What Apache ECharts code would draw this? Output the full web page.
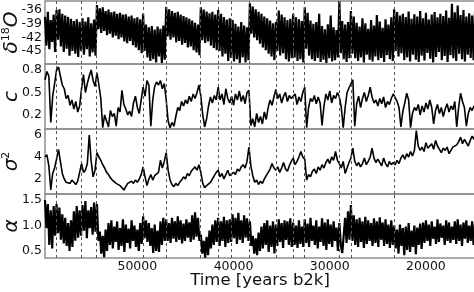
<!DOCTYPE html>
<html><head><meta charset="utf-8">
<script src="https://cdn.jsdelivr.net/npm/echarts@6/dist/echarts.min.js"></script>
<style>html,body{margin:0;padding:0;background:#fff}#c{width:474px;height:292px}</style>
</head><body><div id="c"></div>
<script>
// time grids (years b2k)
const denseStart = 59600, denseStep = 150;   // for d18O and alpha
const smoothStart = 59600, smoothStep = 200; // for c and sigma^2

const d18O = [
-37.5,-43.8,-36.4,-44.6,-38.2,-43.0,-37.0,-45.2,
-36.0,-42.5,-35.8,-44.0,-36.8,-45.2,-37.2,-44.5,-37.5,-46.0,-37.9,-45.0,-38.4,-45.6,-38.0,-46.3,-38.6,
-44.9,-37.8,-45.8,-38.5,-44.6,-37.6,-46.2,-38.9,-45.3,-38.1,-46.0,
-34.9,-40.2,-35.6,-41.0,-35.4,-40.6,-36.2,-41.5,-35.9,-41.2,-36.5,-42.0,-36.3,-41.6,-36.8,-42.4,-36.6,-42.0,-37.0,-42.9,-36.9,-43.3,-37.4,-42.8,-37.2,-43.7,-37.8,-44.2,-37.6,-44.8,-38.0,-45.5,
-36.8,-45.0,-39.2,-46.4,-39.8,-47.2,-39.5,-46.8,-40.3,-47.5,-39.6,-46.2,-40.1,-47.6,-39.4,-46.9,
-35.3,-41.8,-35.8,-42.5,-36.2,-42.0,-36.6,-43.1,-36.4,-42.8,-37.0,-43.6,-37.3,-43.2,-37.6,-44.2,-37.9,-44.0,-38.3,-44.8,-38.8,-45.3,-39.2,-45.9,
-35.4,-42.6,-35.9,-43.2,-36.3,-42.9,-36.7,-43.8,-36.4,-44.3,-37.0,-44.8,
-36.0,-45.0,-36.8,-46.2,-37.5,-45.6,-38.1,-47.2,-37.8,
-46.5,-38.2,-47.3,-39.0,-46.8,-39.6,-47.6,-38.6,-46.4,-39.4,-47.5,-39.8,-47.0,
-34.5,-41.2,-35.2,-42.0,-35.8,-42.6,-36.4,-43.4,-36.8,-44.2,-37.4,-44.8,-37.8,-45.6,-38.3,-46.2,-38.9,-47.0,-38.6,
-45.0,-36.1,-46.0,-37.0,-45.5,-37.6,-46.8,-38.2,-47.3,-37.9,-46.6,
-36.8,-46.4,-37.6,-47.2,-38.0,-46.8,-38.4,-47.5,
-35.4,-44.5,-36.6,-46.0,-38.3,-46.8,-39.0,-47.2,-38.6,-46.5,-36.8,-47.4,-39.5,-46.9,-40.2,-47.6,-39.1,-46.6,-37.2,-47.3,-39.8,-47.0,-40.4,-46.4,
-34.0,-45.5,-38.4,-46.8,-39.2,-47.4,-38.6,-46.6,
-36.2,-45.6,-37.4,-46.6,-38.8,-47.2,-39.6,-46.4,-37.8,-47.5,-38.9,-45.8,-40.1,-46.9,-38.2,-47.3,-39.4,-46.2,-37.1,-47.0,-38.5,-46.5,-39.9,-47.4,-38.0,-45.9,-39.2,-46.8,-37.6,-47.2,
-35.8,-45.0,-36.4,-46.2,-37.2,-45.5,-36.8,-47.0,-37.5,-46.4,
-36.3,-47.3,-37.9,-45.8,-36.9,-46.9,-37.4,-47.4,-36.2,-46.0,
-37.8,-47.1,-36.6,-45.4,-38.1,-46.7,-37.0,-47.5,-36.4,-46.3,
-37.6,-45.2,-36.8,-47.0,-37.3,-46.1,-36.1,-47.4,-37.7,-45.9,
-34.6,-46.6,-36.5,-47.2,-35.0,-45.6,-37.1,-46.8,-36.0,-47.3,
-37.4,-45.8,-36.7,-46.5,-37.2,-47.0,-36.3
];

const cVals = [
0.67,0.78,0.72,0.10,0.45,0.62,
0.80,0.84,0.72,0.60,0.55,0.42,0.46,0.33,0.40,0.28,0.38,0.24,0.32,
0.55,0.74,0.50,0.62,0.72,0.80,0.66,0.58,
0.76,0.60,0.42,0.03,0.20,0.12,0.04,0.26,0.18,0.22,0.05,0.30,0.24,0.53,0.34,0.28,0.20,0.25,0.18,0.36,0.45,0.30,0.22,0.40,
0.57,0.45,0.66,0.60,0.05,0.40,0.58,0.64,0.60,0.66,0.55,0.62,
0.40,0.12,0.03,0.10,0.05,0.18,0.30,0.26,0.38,0.32,0.40,0.35,0.45,0.38,0.48,0.42,0.50,0.60,
0.45,0.20,0.04,0.15,0.32,0.44,0.36,0.46,0.40,
0.57,0.40,0.48,0.34,0.55,0.42,0.36,
0.45,0.33,0.48,0.40,0.52,0.38,0.46,0.35,0.50,
0.53,0.06,0.15,0.04,0.22,0.10,0.18,0.08,0.24,0.14,0.30,0.40,0.33,0.44,
0.54,0.42,0.48,0.36,0.45,0.50,0.38,0.46,0.42,
0.40,0.48,0.34,0.44,0.38,0.50,
0.57,0.03,0.30,0.42,0.38,0.46,0.35,0.44,0.36,0.06,0.32,0.48,0.40,0.52,0.36,0.46,0.42,0.50,
0.44,0.30,0.03,0.30,0.50,0.56,
0.58,0.67,0.05,0.35,0.45,0.30,0.42,0.50,0.38,0.46,0.57,0.44,0.36,0.40,0.32,0.42,0.35,0.44,0.30,0.38,0.34,0.42,0.48,
0.46,0.38,0.30,0.04,0.25,0.36,0.49,0.40,0.03,0.22,
0.30,0.26,0.34,0.20,0.32,0.24,0.36,0.28,0.40,0.30,
0.08,0.26,0.34,0.22,0.30,0.18,0.28,0.35,0.24,0.32,
0.27,0.38,0.04,0.30,0.49,0.38,0.30,0.05,0.22,0.30,
0.26,0.32,0.27
];

const sigma2 = [
4.0,4.2,3.2,1.0,2.5,3.0,
3.8,4.7,3.6,2.5,2.0,1.7,1.8,1.6,1.9,1.7,1.5,1.8,1.7,
3.4,2.6,2.8,3.4,6.0,3.6,2.2,2.8,
4.4,4.0,3.7,3.3,3.0,2.6,2.4,2.1,1.9,2.0,1.6,1.5,1.4,1.2,1.0,1.3,1.6,1.5,1.8,1.6,1.9,1.7,2.0,2.4,
3.1,2.2,1.4,2.0,2.4,1.9,2.3,2.2,2.6,3.7,3.0,3.6,
4.4,2.8,1.9,1.5,1.3,1.6,1.4,1.7,1.9,2.2,2.0,2.5,2.3,2.7,2.9,3.1,2.8,3.3,
2.6,1.6,1.2,1.4,1.3,1.7,2.0,2.3,2.6,
2.8,2.2,2.5,2.0,2.4,2.8,2.3,
2.2,2.6,2.4,2.9,2.7,3.1,3.3,3.0,3.6,
4.9,3.2,2.3,1.7,1.9,1.5,1.8,1.6,2.0,2.3,2.6,2.9,3.4,3.0,
2.8,3.1,2.6,3.0,3.5,2.9,2.7,3.2,3.6,
3.9,3.3,3.6,4.0,4.5,4.0,
3.8,1.9,2.4,2.2,2.7,2.9,2.5,3.1,2.8,3.3,3.0,3.5,3.8,3.4,4.0,3.7,4.5,3.7,
3.4,3.0,3.6,2.5,3.0,3.5,
3.9,4.8,3.6,3.2,3.5,3.1,3.4,3.9,3.3,3.6,4.0,4.8,3.9,3.5,3.8,3.7,3.2,3.9,3.4,3.1,3.6,3.3,3.5,
3.3,3.7,3.4,3.9,4.2,3.8,4.3,4.0,4.5,4.1,
4.6,6.4,5.0,4.6,4.9,4.5,5.3,4.8,5.0,5.2,
4.7,5.5,5.0,4.7,4.4,4.8,4.6,4.9,4.3,4.4,
4.9,4.8,5.1,5.4,5.8,5.2,5.6,5.5,5.0,5.5,
5.9,5.6,6.3
];

const alphaVals = [
1.50,0.95,1.42,0.62,1.30,0.55,1.38,0.80,
1.42,0.85,1.35,0.72,1.22,0.65,1.15,0.60,1.05,0.50,1.10,0.58,1.28,0.70,1.38,0.76,1.30,
0.80,1.40,0.90,1.48,0.75,1.30,0.95,1.36,0.82,1.45,0.88,
1.42,0.70,0.88,0.45,0.80,0.38,0.92,0.50,1.05,0.62,1.10,0.55,0.98,0.68,1.08,0.52,0.95,0.60,1.12,0.48,1.02,0.66,0.94,0.55,1.10,0.70,1.00,0.58,0.92,0.50,1.05,0.64,
1.18,0.75,1.10,0.68,1.05,0.60,0.95,0.46,1.02,0.50,0.90,0.48,1.08,0.62,1.15,0.70,
1.12,0.70,1.05,0.66,1.15,0.74,1.08,0.68,1.18,0.72,1.10,0.65,1.04,0.70,1.12,0.76,1.06,0.68,1.20,0.72,1.26,0.78,1.15,0.70,
0.82,0.45,0.70,0.37,0.78,0.42,0.90,0.55,1.02,0.62,1.10,0.68,
1.15,0.60,1.08,0.70,1.17,0.58,1.10,0.66,1.12,
0.68,1.22,0.75,1.15,0.64,1.25,0.72,1.10,0.66,1.20,0.76,1.14,0.70,
1.08,0.60,0.80,0.45,0.75,0.42,0.86,0.50,0.98,0.55,1.05,0.62,1.10,0.48,1.00,0.58,1.08,0.45,1.02,
0.60,1.12,0.68,1.05,0.56,1.10,0.72,1.08,0.62,1.14,0.58,
1.06,0.62,1.00,0.56,1.10,0.64,0.98,0.58,
1.12,0.66,1.04,0.58,1.15,0.70,1.00,0.62,1.10,0.55,0.98,0.68,1.14,0.60,1.06,0.52,1.12,0.64,1.02,0.58,1.08,0.70,0.96,0.50,
1.05,0.62,0.46,0.80,1.15,0.66,1.28,0.72,
1.40,0.70,1.20,0.62,1.12,0.58,1.15,0.68,1.08,0.56,1.17,0.64,1.10,0.70,1.05,0.60,1.14,0.66,1.08,0.58,1.16,0.72,1.06,0.60,1.12,0.64,1.02,0.56,1.10,0.62,
1.00,0.55,0.92,0.45,1.02,0.60,0.95,0.42,0.98,0.52,
1.05,0.48,0.90,0.58,1.00,0.44,0.96,0.62,1.04,0.54,
1.06,0.66,1.10,0.70,1.02,0.60,1.08,0.74,0.98,0.64,
1.12,0.68,1.04,0.76,1.00,0.62,1.10,0.70,1.06,0.66,
0.98,0.72,1.08,0.64,1.12,0.70,1.02,0.60,1.06,0.74,
1.10,0.66,1.00,0.70,1.08,0.62,1.04
];

const eventYears = [58440,55830,54270,49380,47000,43440,41560,40210,38330,35520,33750,32600,28960,27810,23330];
const xTicks = [50000,40000,30000,20000];
const d18OTicks = [-45,-42,-39,-36];
const cTicks = [0.2,0.5,0.8];
const sigmaTicks = [2,4,6];
const alphaTicks = [0.5,1.0,1.5];

const FONT = 'DejaVu Sans';
const toPairs = (vals, start, step) => vals.map((v, i) => [start - i * step, v]);

const panels = [
  {top:1,   height:63, min:-47.85, max:-34.0, ticks:d18OTicks, fmt:v=>String(v), name:'{i|δ}{s|18}{i|O}',
   data:toPairs(d18O, denseStart, denseStep), lw:2.2},
  {top:64,  height:65, min:0.013, max:0.88, ticks:cTicks, fmt:v=>v.toFixed(1), name:'{i|c}',
   data:toPairs(cVals, smoothStart, smoothStep), lw:1.6},
  {top:129, height:65, min:0.636, max:6.545, ticks:sigmaTicks, fmt:v=>String(v), name:'{i|σ}{s|2}',
   data:toPairs(sigma2, smoothStart, smoothStep), lw:1.6},
  {top:194, height:64, min:0.363, max:1.618, ticks:alphaTicks, fmt:v=>v.toFixed(1), name:'{i|α}',
   data:toPairs(alphaVals, denseStart, denseStep), lw:2.2}
];

const grid = [], xAxis = [], yAxis = [], series = [];
panels.forEach((p, k) => {
  grid.push({left:45, top:p.top, width:430, height:p.height, show:true, containLabel:false, outerBoundsMode:'none',
    borderColor:'#8e8e8e', borderWidth:1.5, backgroundColor:'transparent'});
  xAxis.push({gridIndex:k, type:'value', inverse:true, min:14900, max:59600,
    axisLine:{show:false}, axisTick:{show:false}, splitLine:{show:false},
    axisLabel:{show:k===3, customValues:xTicks, formatter:v=>String(v), fontFamily:FONT, fontSize:12.5, color:'#111', margin:2},
    name: k===3 ? 'Time [years b2k]' : '', nameLocation:'middle', nameGap:14, nameMoveOverlap:false,
    nameTextStyle:{fontFamily:FONT, fontSize:16.5, color:'#111'}});
  yAxis.push({gridIndex:k, type:'value', min:p.min, max:p.max,
    axisLine:{show:false}, axisTick:{show:false}, splitLine:{show:false},
    axisLabel:{customValues:p.ticks, formatter:p.fmt, fontFamily:FONT, fontSize:12.5, color:'#111', margin:3},
    name:p.name, nameLocation:'middle', nameRotate:90, nameGap:22, nameMoveOverlap:false,
    nameTextStyle:{fontFamily:FONT, color:'#111',
      rich:{i:{fontFamily:FONT, fontSize:20, fontStyle:'italic', color:'#111', lineHeight:22},
            s:{fontFamily:FONT, fontSize:11, color:'#111', verticalAlign:'top'}}}});
  series.push({type:'line', xAxisIndex:k, yAxisIndex:k, data:p.data, showSymbol:false,
    lineStyle:{color:'#000', width:p.lw}, animation:false, silent:true,
    markLine:{silent:true, symbol:'none', animation:false, label:{show:false},
      lineStyle:{type:[3,3], color:'#555', width:1},
      data:eventYears.map(y => ({xAxis:y}))}});
});

const chart = echarts.init(document.getElementById('c'), null, {renderer:'canvas'});
chart.setOption({animation:false, grid, xAxis, yAxis, series});
</script>
</body></html>
